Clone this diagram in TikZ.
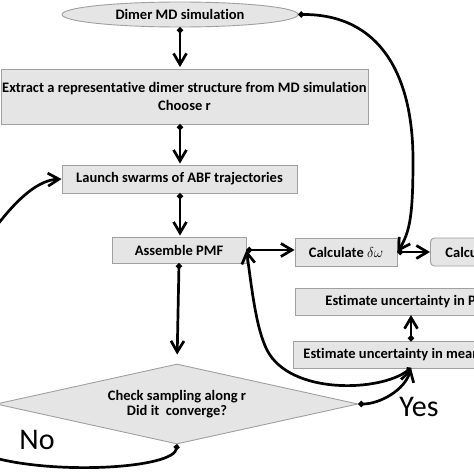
\documentclass[tikz,border=0pt]{standalone}
\usepackage{fontspec}
\setmainfont{Carlito}[Ligatures=CommonOff]
\usetikzlibrary{shapes.geometric,arrows.meta}
\definecolor{boxfill}{RGB}{229,229,229}
\definecolor{boxline}{RGB}{160,160,160}
\tikzset{
  box/.style={draw=boxline, fill=boxfill, line width=0.9pt, font=\bfseries\fontsize{14.5}{18}\selectfont, inner sep=0pt, align=center},
  conn/.style={line width=2.7pt, {Circle[length=5.5pt]}-{Straight Barb[length=11pt,width=13pt]}},
  bigtxt/.style={font=\fontsize{30}{30}\selectfont, inner sep=0pt}
}
\begin{document}
\begin{tikzpicture}[x=1pt,y=1pt]
\useasboundingbox (0,0) rectangle (474,-474);
\fill[white] (0,0) rectangle (474,-474);
\clip (0,0) rectangle (474,-474);

\node[box, ellipse, minimum width=236pt, minimum height=25pt] (md) at (180,-14.5) {Dimer MD simulation};
\node[box, minimum width=367pt, minimum height=55pt] (extract) at (184.5,-96.5) {Extract a representative dimer structure from MD simulation\\Choose r};
\node[box, minimum width=235pt, minimum height=28pt] (launch) at (179.5,-179) {Launch swarms of ABF trajectories};
\node[box, minimum width=134pt, minimum height=26pt] (pmf) at (179,-250) {Assemble PMF};
\node[box, minimum width=102pt, minimum height=28pt] (dw) at (346,-252) {Calculate $\delta\omega$};
\node[box, anchor=west, rounded corners=4pt, minimum height=28pt, inner xsep=15pt] (calc) at (430,-252) {Calculate $\Delta G$};
\node[box, anchor=west, minimum height=27pt, inner xsep=30pt] (unc1) at (295,-301.5) {Estimate uncertainty in PMF};
\node[box, anchor=west, minimum height=27pt, inner xsep=10pt] (unc2) at (293,-354.5) {Estimate uncertainty in mean force};
\node[box, diamond, aspect=4.5, minimum width=362pt, minimum height=80pt, font=\bfseries\fontsize{14.5}{15}\selectfont] (dia) at (177,-404) {Check sampling along r\\Did it\ \ converge?};
\node[bigtxt] (yes) at (419,-407) {Yes};
\node[bigtxt] (no) at (37,-440) {No};

\coordinate (e1) at (extract.south -| md.south);
\coordinate (l1) at (launch.south -| md.south);
\coordinate (u1b) at (411,-315);
\coordinate (u2t) at (411,-341);
\coordinate (u2b) at (411,-368);

\draw[conn, shorten >=1.5pt] (md.south) -- (md.south |- extract.north);
\draw[conn, shorten >=1pt] (e1) -- (e1 |- launch.north);
\draw[conn, shorten >=1pt] (l1) -- (l1 |- pmf.north);
\draw[conn, shorten >=9pt] (pmf.south) -- (dia.north);
\draw[conn] (pmf.east) -- (pmf.east -| dw.west);
\draw[conn] (dw.east) -- (dw.east -| calc.west);
\draw[conn] (u2t) -- (u1b);
\draw[conn] (md.east) .. controls (380,-14) and (413,-75) .. (413,-160)
  .. controls (413,-215) and (410,-232) .. (dw.east);
\draw[conn] (u2b) .. controls (380,-392) and (290,-395) .. (267,-350)
  .. controls (256,-328) and (252,-290) .. (pmf.east);
\draw[conn] (dia.east) .. controls (380,-404) and (405,-390) .. (u2b);
\draw[conn] (dia.south) .. controls (174,-468) and (60,-475) .. (-5,-458)
  .. controls (-60,-440) and (-60,-270) .. (-5,-228)
  .. controls (20,-195) and (40,-180) .. (launch.west);
\end{tikzpicture}
\end{document}
